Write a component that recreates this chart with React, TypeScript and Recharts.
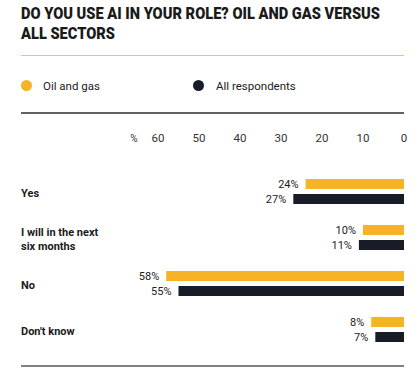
import { BarChart, Bar, XAxis, YAxis, LabelList } from "recharts";

const categories = ["Yes", "I will in the next six months", "No", "Don't know"];
const categoryLines = [["Yes"], ["I will in the next", "six months"], ["No"], ["Don't know"]];
const oilAndGas = [24, 10, 58, 8];
const allRespondents = [27, 11, 55, 7];
const xTicks = [0, 10, 20, 30, 40, 50, 60];

const YELLOW = "#F5B325";
const NAVY = "#171C26";

const chartData = categories.map((name, i) => ({
  name,
  oil: oilAndGas[i],
  all: allRespondents[i],
}));

const CategoryTick = (props: any) => {
  const { y, index } = props;
  const lines = categoryLines[index] || [props.payload.value];
  const start = y - ((lines.length - 1) * 14) / 2 + 2;
  return (
    <text x={21} y={start} textAnchor="start" fontSize={11} fontWeight={700} fill="#1a1a1a">
      {lines.map((l: string, i: number) => (
        <tspan key={i} x={21} y={start + i * 14} dy="0.35em">
          {l}
        </tspan>
      ))}
    </text>
  );
};

const PercentTick = (props: any) => {
  const { x, payload } = props;
  const ty = 18;
  return (
    <g>
      <text x={x} y={ty} dy="0.35em" textAnchor="middle" fontSize={11.5} fill="#333">
        {payload.value}
      </text>
      {payload.value === 60 && (
        <text x={x - 24} y={ty} dy="0.35em" textAnchor="middle" fontSize={10} fill="#333">
          %
        </text>
      )}
    </g>
  );
};

const ValueLabel = (props: any) => {
  const { x, y, width, height, value } = props;
  const left = Math.min(x, x + width);
  return (
    <text x={left - 7} y={y + height / 2} dy="0.35em" textAnchor="end" fontSize={11} fill="#222">
      {value}%
    </text>
  );
};

export default function App() {
  return (
    <div
      style={{
        position: "absolute",
        left: 0,
        top: 0,
        width: 420,
        height: 380,
        background: "#fff",
        fontFamily: "Roboto, sans-serif",
        color: "#1a1a1a",
        overflow: "hidden",
      }}
    >
      <div
        style={{
          position: "absolute",
          left: 21,
          top: 4,
          fontFamily: "Roboto, sans-serif",
          fontWeight: 900,
          fontSize: 17,
          lineHeight: "19.5px",
          whiteSpace: "nowrap",
          transform: "scaleX(0.86)",
          transformOrigin: "0 0",
        }}
      >
        DO YOU USE AI IN YOUR ROLE? OIL AND GAS VERSUS
        <br />
        ALL SECTORS
      </div>
      <div style={{ position: "absolute", left: 21, top: 55, width: 383, height: 1, background: "#F2C45A" }} />

      <div style={{ position: "absolute", left: 21, top: 80, width: 11, height: 11, borderRadius: "50%", background: YELLOW }} />
      <div style={{ position: "absolute", left: 43, top: 78, fontSize: 11.5, lineHeight: "16px" }}>Oil and gas</div>
      <div style={{ position: "absolute", left: 193, top: 80, width: 11, height: 11, borderRadius: "50%", background: NAVY }} />
      <div style={{ position: "absolute", left: 216, top: 78, fontSize: 11.5, lineHeight: "16px" }}>All respondents</div>

      <div style={{ position: "absolute", left: 21, top: 112, width: 383, height: 1.5, background: "#5f6368" }} />

      <div style={{ position: "absolute", left: 0, top: 120 }}>
        <BarChart
          width={420}
          height={250}
          data={chartData}
          layout="vertical"
          margin={{ top: 0, right: 16, bottom: 18, left: 0 }}
          barSize={10}
          barGap={5}
        >
          <XAxis
            type="number"
            orientation="top"
            reversed
            domain={[0, 60]}
            ticks={xTicks}
            height={48}
            axisLine={false}
            tickLine={false}
            tick={<PercentTick />}
            interval={0}
          />
          <YAxis
            type="category"
            dataKey="name"
            width={158}
            axisLine={false}
            tickLine={false}
            tick={<CategoryTick />}
            interval={0}
          />
          <Bar dataKey="oil" fill={YELLOW} isAnimationActive={false}>
            <LabelList dataKey="oil" content={<ValueLabel />} />
          </Bar>
          <Bar dataKey="all" fill={NAVY} isAnimationActive={false}>
            <LabelList dataKey="all" content={<ValueLabel />} />
          </Bar>
        </BarChart>
      </div>

      <div style={{ position: "absolute", left: 21, top: 365, width: 383, height: 2, background: "#808285" }} />
    </div>
  );
}
